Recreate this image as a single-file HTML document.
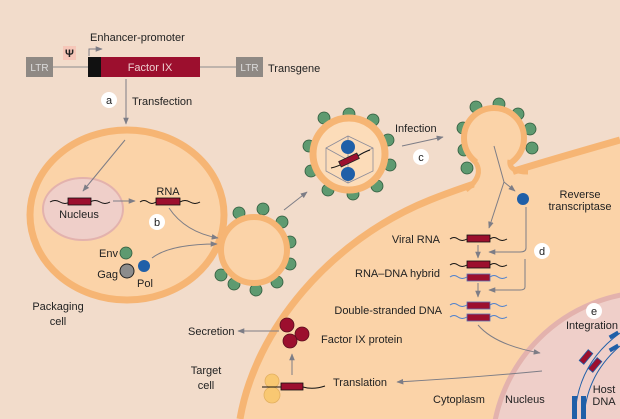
<!DOCTYPE html>
<html><head><meta charset="utf-8"><style>
html,body{margin:0;padding:0;background:#f2dccb;width:620px;height:419px;overflow:hidden;}
svg{display:block;font-family:"Liberation Sans",sans-serif;}
text{font-size:11px;fill:#222;}
</style></head><body>
<svg width="620" height="419" viewBox="0 0 620 419" xmlns="http://www.w3.org/2000/svg">
<defs>
<marker id="ah" viewBox="0 0 10 10" refX="9" refY="5" markerWidth="7" markerHeight="7" orient="auto"><path d="M0,1 L10,5 L0,9 z" fill="#7d7d86"/></marker>
<clipPath id="tc"><path d="M240,419 C255,330 330,240 430,200 C480,180 550,160 620,140 L620,419 Z"/></clipPath>
</defs>
<rect width="620" height="419" fill="#f2dccb"/>
<!-- target cell -->
<path d="M240,419 C255,330 330,240 430,200 C480,180 550,160 620,140 L620,419 Z" fill="#fbd3a8"/>
<path d="M240,419 C255,330 330,240 430,200 C480,180 550,160 620,140" fill="none" stroke="#f6b574" stroke-width="7"/>
<!-- host nucleus -->
<g clip-path="url(#tc)">
<circle cx="652" cy="452" r="160" fill="#efcfc9" stroke="#e3b2ad" stroke-width="5"/>
</g>
<!-- packaging cell -->
<ellipse cx="127" cy="215" rx="97" ry="85" fill="#fbd3a8" stroke="#f6b574" stroke-width="7"/>
<ellipse cx="83" cy="209" rx="40" ry="31" fill="#efcfc9" stroke="#e3b2ad" stroke-width="2"/>
<!-- budding virus -->
<g fill="#5e9a70" stroke="#2f5a3c" stroke-width="0.8">
<circle cx="239" cy="213" r="6"/><circle cx="263" cy="209" r="6"/><circle cx="282" cy="222" r="6"/><circle cx="290" cy="242" r="6"/><circle cx="290" cy="264" r="6"/><circle cx="277" cy="282" r="6"/><circle cx="256" cy="290" r="6"/><circle cx="234" cy="284" r="6"/><circle cx="221" cy="275" r="6"/>
</g>
<circle cx="254" cy="250" r="33" fill="#fbd3a8" stroke="#f6b574" stroke-width="6"/>
<!-- top virion -->
<g fill="#5e9a70" stroke="#2f5a3c" stroke-width="0.8">
<circle cx="324" cy="118" r="6"/><circle cx="349" cy="114" r="6"/><circle cx="373" cy="120" r="6"/><circle cx="388" cy="140" r="6"/><circle cx="390" cy="165" r="6"/><circle cx="377" cy="186" r="6"/><circle cx="353" cy="194" r="6"/><circle cx="328" cy="190" r="6"/><circle cx="311" cy="171" r="6"/><circle cx="309" cy="146" r="6"/>
</g>
<circle cx="349" cy="154" r="36" fill="#fcdcb9" stroke="#f6b574" stroke-width="7"/>
<g fill="none" stroke="#8c8c9a" stroke-width="0.8">
<path d="M326,148 L348,136 L373,148 L373,171 L348,183 L326,171 z"/>
<path d="M326,148 L348,160 L373,148 M348,160 L348,183 M348,136 L348,160"/>
</g>
<circle cx="348" cy="147" r="7" fill="#1f5fa8"/><circle cx="348" cy="174" r="7" fill="#1f5fa8"/>
<path d="M331,168 Q340,166 345,162 M358,156 Q364,152 370,150" stroke="#111" fill="none"/>
<rect x="339" y="157" width="20" height="6" fill="#9c0f2e" stroke="#222" stroke-width="0.8" transform="rotate(-25 349 160)"/>
<!-- infecting virus -->
<g fill="#5e9a70" stroke="#2f5a3c" stroke-width="0.8">
<circle cx="463" cy="128" r="6"/><circle cx="476" cy="107" r="6"/><circle cx="499" cy="104" r="6"/><circle cx="518" cy="114" r="6"/><circle cx="530" cy="129" r="6"/><circle cx="532" cy="148" r="6"/><circle cx="464" cy="150" r="6"/><circle cx="467" cy="168" r="6"/>
</g>
<circle cx="494" cy="138" r="30" fill="#fbd3a8" stroke="#f6b574" stroke-width="6"/>
<path d="M478,158 L508,160 L516,180 L474,190 z" fill="#fbd3a8"/>
<path d="M476,163 Q484,176 466,190" stroke="#f6b574" stroke-width="5" fill="none"/>
<path d="M510,160 Q508,172 528,172" stroke="#f6b574" stroke-width="5" fill="none"/>
<!-- header construct -->
<line x1="53" y1="67" x2="88" y2="67" stroke="#8c8c8c"/>
<line x1="200" y1="67" x2="236" y2="67" stroke="#8c8c8c"/>
<rect x="26" y="57" width="27" height="20" fill="#8f8984"/>
<text x="39.5" y="71" text-anchor="middle" style="fill:#ddd;font-size:10px">LTR</text>
<rect x="236" y="57" width="27" height="20" fill="#8f8984"/>
<text x="249.5" y="71" text-anchor="middle" style="fill:#ddd;font-size:10px">LTR</text>
<rect x="88" y="57" width="13" height="20" fill="#111"/>
<rect x="101" y="57" width="99" height="20" fill="#9c0f2e"/>
<text x="150" y="71" text-anchor="middle" style="fill:#eecfd0">Factor IX</text>
<text x="268" y="72">Transgene</text>
<rect x="63" y="46" width="13" height="14" fill="#f6c6b8"/>
<text x="69.5" y="57" text-anchor="middle" style="font-size:11px;font-weight:bold">Ψ</text>
<text x="90" y="41">Enhancer-promoter</text>
<path d="M89,56 L89,49 L102,49" fill="none" stroke="#7d7d86" marker-end="url(#ah)"/>
<line x1="126" y1="79" x2="126" y2="124" stroke="#7d7d86" marker-end="url(#ah)"/>
<circle cx="109" cy="100" r="8" fill="#fff"/><text x="109" y="104" text-anchor="middle">a</text>
<text x="132" y="105">Transfection</text>
<!-- packaging cell contents -->
<line x1="125" y1="140" x2="83" y2="191" stroke="#7d7d86" marker-end="url(#ah)"/>
<path d="M50,202 q5,-3 10,0 t10,0 M90,202 q5,-3 10,0 t10,0" stroke="#111" fill="none"/>
<rect x="68" y="198" width="23" height="7" fill="#9c0f2e" stroke="#111" stroke-width="0.8"/>
<text x="79" y="218" text-anchor="middle">Nucleus</text>
<line x1="113" y1="201" x2="135" y2="201" stroke="#7d7d86" marker-end="url(#ah)"/>
<path d="M140,202 q4,-3 8,0 t8,0 M180,202 q5,-3 10,0 t10,0" stroke="#111" fill="none"/>
<rect x="156" y="198" width="24" height="7" fill="#9c0f2e" stroke="#111" stroke-width="0.8"/>
<text x="168" y="195" text-anchor="middle">RNA</text>
<circle cx="157" cy="222" r="8" fill="#fff"/><text x="157" y="226" text-anchor="middle">b</text>
<path d="M169,208 Q185,232 218,238" fill="none" stroke="#7d7d86" marker-end="url(#ah)"/>
<text x="118" y="257" text-anchor="end">Env</text>
<circle cx="126" cy="253" r="6" fill="#5e9a70" stroke="#2f5a3c" stroke-width="0.8"/>
<text x="118" y="278" text-anchor="end">Gag</text>
<circle cx="127" cy="271" r="7" fill="#8c8c8c" stroke="#222" stroke-width="1"/>
<circle cx="144" cy="266" r="6" fill="#1f5fa8"/>
<text x="137" y="287">Pol</text>
<path d="M152,258 Q170,244 217,244" fill="none" stroke="#7d7d86" marker-end="url(#ah)"/>
<text x="58" y="310" text-anchor="middle">Packaging</text>
<text x="58" y="325" text-anchor="middle">cell</text>
<line x1="284" y1="210" x2="307" y2="192" stroke="#7d7d86" marker-end="url(#ah)"/>
<!-- infection -->
<text x="395" y="132">Infection</text>
<line x1="402" y1="146" x2="443" y2="137" stroke="#7d7d86" marker-end="url(#ah)"/>
<circle cx="421" cy="157" r="8" fill="#fff"/><text x="421" y="161" text-anchor="middle">c</text>
<path d="M494,146 L504,182 L515,191" fill="none" stroke="#7d7d86" marker-end="url(#ah)"/>
<line x1="504" y1="182" x2="489" y2="228" stroke="#7d7d86" marker-end="url(#ah)"/>
<circle cx="523" cy="199" r="6" fill="#1f5fa8"/>
<text x="580" y="198" text-anchor="middle">Reverse</text>
<text x="580" y="210" text-anchor="middle">transcriptase</text>
<text x="440" y="243" text-anchor="end">Viral RNA</text>
<path d="M450,239 q4,-3 8,0 t9,0 M490,239 q4,-3 8,0 t9,0" stroke="#111" fill="none"/>
<rect x="467" y="235" width="23" height="7" fill="#9c0f2e" stroke="#111" stroke-width="0.8"/>
<path d="M526,207 L526,248 Q526,252 520,252 L489,252" fill="none" stroke="#7d7d86" marker-end="url(#ah)"/>
<circle cx="542" cy="251" r="8" fill="#fff"/><text x="542" y="255" text-anchor="middle">d</text>
<line x1="478" y1="245" x2="478" y2="258" stroke="#7d7d86" marker-end="url(#ah)"/>
<text x="440" y="277" text-anchor="end">RNA–DNA hybrid</text>
<path d="M450,265 q4,-3 8,0 t9,0 M490,265 q4,-3 8,0 t9,0" stroke="#111" fill="none"/>
<rect x="467" y="261" width="23" height="7" fill="#9c0f2e" stroke="#111" stroke-width="0.8"/>
<path d="M450,277 q4,-3 8,0 t9,0 M490,277 q4,-3 8,0 t9,0" stroke="#4a7fcf" fill="none"/>
<rect x="467" y="274" width="23" height="7" fill="#9c0f2e" stroke="#5a72b8" stroke-width="0.8"/>
<path d="M525,259 L525,287 Q525,290 520,290 L489,290" fill="none" stroke="#7d7d86" marker-end="url(#ah)"/>
<line x1="478" y1="283" x2="478" y2="297" stroke="#7d7d86" marker-end="url(#ah)"/>
<text x="442" y="314" text-anchor="end">Double-stranded DNA</text>
<path d="M450,305 q4,-3 8,0 t9,0 M490,305 q4,-3 8,0 t9,0" stroke="#4a7fcf" fill="none"/>
<rect x="467" y="302" width="23" height="7" fill="#9c0f2e" stroke="#5a72b8" stroke-width="0.8"/>
<path d="M450,317 q4,-3 8,0 t9,0 M490,317 q4,-3 8,0 t9,0" stroke="#4a7fcf" fill="none"/>
<rect x="467" y="314" width="23" height="7" fill="#9c0f2e" stroke="#5a72b8" stroke-width="0.8"/>
<circle cx="594" cy="311" r="8" fill="#fff"/><text x="594" y="315" text-anchor="middle">e</text>
<text x="592" y="329" text-anchor="middle">Integration</text>
<path d="M478,325 Q495,345 540,353" fill="none" stroke="#7d7d86" marker-end="url(#ah)"/>
<!-- host DNA -->
<path d="M575,419 Q576,365 620,333" fill="none" stroke="#1f5fa8" stroke-width="1"/>
<path d="M584,419 Q586,375 620,346" fill="none" stroke="#1f5fa8" stroke-width="1"/>
<rect x="572" y="396" width="5" height="23" fill="#1f5fa8"/>
<rect x="581" y="396" width="5" height="23" fill="#1f5fa8"/>
<rect x="583" y="350" width="6" height="14" fill="#9c0f2e" stroke="#1f5fa8" stroke-width="0.8" transform="rotate(40 586 357)"/>
<rect x="592" y="358" width="6" height="14" fill="#9c0f2e" stroke="#1f5fa8" stroke-width="0.8" transform="rotate(40 595 365)"/>
<rect x="609" y="333" width="10" height="4" fill="#1f5fa8" transform="rotate(-30 614 335)"/>
<rect x="609" y="346" width="10" height="4" fill="#1f5fa8" transform="rotate(-30 614 348)"/>
<text x="604" y="393" text-anchor="middle">Host</text>
<text x="604" y="405" text-anchor="middle">DNA</text>
<text x="505" y="403">Nucleus</text>
<text x="433" y="403">Cytoplasm</text>
<path d="M542,371 Q470,378 397,382" fill="none" stroke="#7d7d86" marker-end="url(#ah)"/>
<text x="333" y="386">Translation</text>
<circle cx="272" cy="381" r="7" fill="#f9c872" stroke="#e3b060" stroke-width="0.8"/>
<circle cx="272" cy="395" r="8" fill="#f9c872" stroke="#e3b060" stroke-width="0.8"/>
<path d="M262,387 L281,387 M303,387 Q313,390 325,386" stroke="#111" fill="none"/>
<rect x="281" y="383" width="22" height="7" fill="#9c0f2e" stroke="#111" stroke-width="0.8"/>
<line x1="292" y1="375" x2="292" y2="354" stroke="#7d7d86" marker-end="url(#ah)"/>
<circle cx="287" cy="325" r="7" fill="#9c0f2e" stroke="#5a0f1e" stroke-width="0.8"/>
<circle cx="302" cy="334" r="7" fill="#9c0f2e" stroke="#5a0f1e" stroke-width="0.8"/>
<circle cx="290" cy="341" r="7" fill="#9c0f2e" stroke="#5a0f1e" stroke-width="0.8"/>
<text x="321" y="343">Factor IX protein</text>
<line x1="279" y1="331" x2="238" y2="331" stroke="#7d7d86" marker-end="url(#ah)"/>
<text x="188" y="335">Secretion</text>
<text x="206" y="374" text-anchor="middle">Target</text>
<text x="206" y="389" text-anchor="middle">cell</text>
</svg>
</body></html>
